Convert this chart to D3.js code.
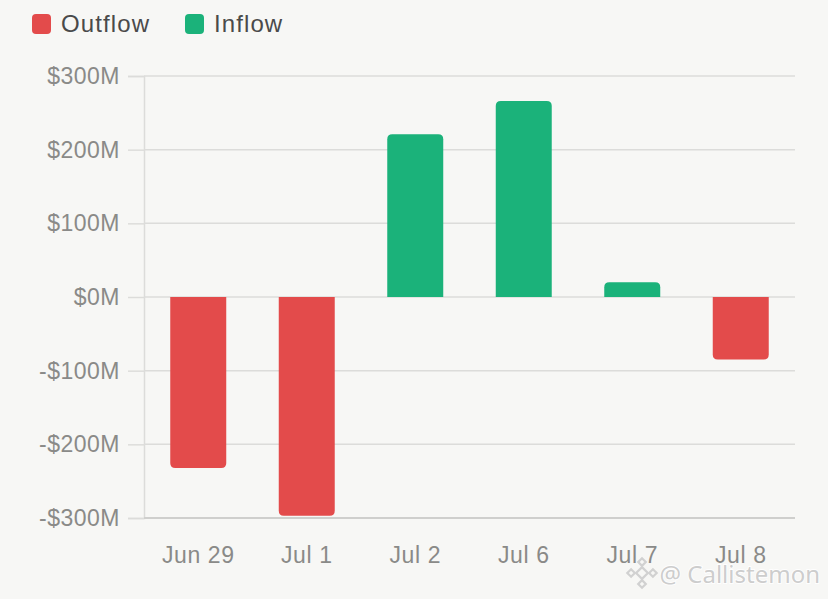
<!DOCTYPE html>
<html><head><meta charset="utf-8">
<script src="https://cdn.jsdelivr.net/npm/d3@7"></script>
<style>
html,body{margin:0;padding:0;background:#f7f7f5;}
svg{display:block;font-family:"Liberation Sans",Arial,sans-serif;}
</style></head>
<body>
<svg id="chart" width="828" height="599"></svg>
<script>
const categories = ["Jun 29","Jul 1","Jul 2","Jul 6","Jul 7","Jul 8"];
const values = [-232, -297, 221, 266, 20, -85]; // $M
const yTicks = [-300,-200,-100,0,100,200,300];
const legendItems = ["Outflow","Inflow"];
const colors = {Outflow:"#e34b4b", Inflow:"#1bb27a"};

const svg = d3.select("#chart");
const W = 828, H = 599;
svg.append("rect").attr("width",W).attr("height",H).attr("fill","#f7f7f5");

const m = {left:144, right:795, top:76, bottom:518};
const x = d3.scaleBand().domain(categories).range([m.left,m.right]).paddingInner(0.484).paddingOuter(0.242);
const y = d3.scaleLinear().domain([-300,300]).range([m.bottom,m.top]);

const yAxis = d3.axisLeft(y).tickValues(yTicks).tickSize(16).tickPadding(8)
  .tickFormat(d => (d<0?"-":"") + "$" + Math.abs(d) + "M");
const gy = svg.append("g").attr("transform",`translate(${m.left},0)`).call(yAxis);
gy.select(".domain").attr("stroke","#dcdcda").attr("stroke-width",1.5);
gy.selectAll(".tick line").attr("stroke","#dcdcda").attr("stroke-width",1.5);
gy.selectAll(".tick text").attr("fill","#8a8a88").attr("font-size",23).attr("letter-spacing",0.5);
svg.append("g").selectAll("line").data(yTicks).join("line")
  .attr("x1",m.left).attr("x2",m.right)
  .attr("y1",d=>y(d)).attr("y2",d=>y(d))
  .attr("stroke",d=>d===-300?"#cfcfcd":"#dcdcda").attr("stroke-width",d=>d===-300?2:1.5);

const r = 5;
function barPath(d,i){
  const c = categories[i];
  const x0 = x(c), w = x.bandwidth();
  const y0 = y(0), y1 = y(d);
  const rr = Math.min(r, Math.abs(y1-y0));
  if (d>=0){
    return `M${x0},${y0}V${y1+rr}Q${x0},${y1} ${x0+rr},${y1}H${x0+w-rr}Q${x0+w},${y1} ${x0+w},${y1+rr}V${y0}Z`;
  } else {
    return `M${x0},${y0}V${y1-rr}Q${x0},${y1} ${x0+rr},${y1}H${x0+w-rr}Q${x0+w},${y1} ${x0+w},${y1-rr}V${y0}Z`;
  }
}
svg.append("g").selectAll("path").data(values).join("path")
  .attr("d",barPath)
  .attr("fill",d=>d<0?colors.Outflow:colors.Inflow);

const xAxis = d3.axisBottom(x).tickSize(0);
const gx = svg.append("g").attr("transform",`translate(0,${m.bottom})`).call(xAxis);
gx.select(".domain").remove();
gx.selectAll(".tick text").attr("y",45).attr("dy",null)
  .attr("fill","#8a8a88").attr("font-size",23).attr("letter-spacing",0.6);

const lg = svg.append("g");
const lx = [32, 185];
legendItems.forEach((k,i)=>{
  lg.append("rect").attr("x",lx[i]).attr("y",14).attr("width",19).attr("height",20).attr("rx",4).attr("fill",colors[k]);
  lg.append("text").attr("x",lx[i]+29).attr("y",32).attr("font-size",24).attr("letter-spacing",1.1)
    .attr("fill","#4a4a4a").text(k);
});

// watermark (logo + handle)
const wm = svg.append("g").attr("opacity",0.95);
const lcx = 642, lcy = 573, s = 4.2;
const diamonds = [[0,0,1.4],[0,-2.6,0.9],[0,2.6,0.9],[-2.6,0,0.9],[2.6,0,0.9]];
wm.selectAll("path").data(diamonds).join("path")
  .attr("d",d=>{const cx=lcx+d[0]*s, cy=lcy+d[1]*s, h=d[2]*s;return `M${cx},${cy-h}L${cx+h},${cy}L${cx},${cy+h}L${cx-h},${cy}Z`;})
  .attr("fill","none").attr("stroke","#d0d0d0").attr("stroke-width",2.2);
wm.append("text").attr("x",820).attr("y",583).attr("text-anchor","end")
  .attr("font-family","'Noto Sans',sans-serif")
  .attr("font-size",24).attr("fill","#cbcbcb").attr("stroke","#ffffff").attr("stroke-width",2)
  .attr("paint-order","stroke").text("@ Callistemon");
</script>
</body></html>
